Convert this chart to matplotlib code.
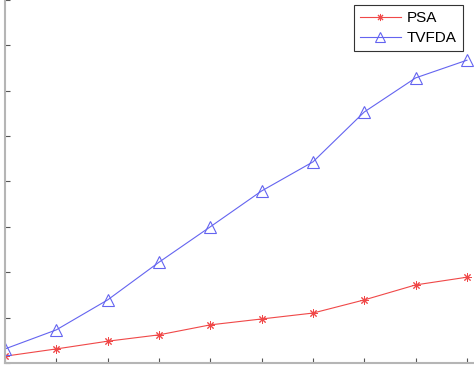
import numpy as np
import matplotlib
matplotlib.use('Agg')
import matplotlib.pyplot as plt

# values (tick labels are cropped, so units are tick steps)
steps = [1, 2, 3, 4, 5, 6, 7, 8, 9, 10]
psa = [0.15, 0.31, 0.48, 0.62, 0.84, 0.97, 1.10, 1.39, 1.72, 1.89]
tvfda = [0.31, 0.73, 1.39, 2.22, 3.00, 3.79, 4.43, 5.53, 6.28, 6.67]

plt.rcParams['font.family'] = ['Liberation Sans', 'DejaVu Sans']

fig = plt.figure(figsize=(4.74, 3.65), dpi=100)
W, H = 474, 365
# axes start at pixel 5 from left, bottom at pixel 363; right/top go past the crop
ax = fig.add_axes([5 / W, 2 / H, 1.0, 1.0])

px_per_step = 51.33
px_per_unit = 45.4
ax.set_xlim(1, 1 + W * 1.0 / px_per_step)
ax.set_ylim(0, H * 1.0 / px_per_unit)

ax.plot(steps, psa, color='#f04848', lw=0.8, marker=(8, 2, 0), ms=6, mew=0.7,
        label='PSA')
ax.plot(steps, tvfda, color='#6464f0', lw=0.8, marker='^', ms=9, mew=0.8,
        mfc='none', label='TVFDA')

ax.set_xticks(steps)
ax.set_yticks(range(0, 9))
ax.set_xticklabels([])
ax.set_yticklabels([])
ax.tick_params(direction='in', length=3.6, width=0.8, colors='#555555')
for side in ['top', 'right']:
    ax.spines[side].set_visible(False)
for side in ['left', 'bottom']:
    ax.spines[side].set_color('#b5b5b5')
    ax.spines[side].set_linewidth(1.5)

leg = ax.legend(loc='upper right', bbox_to_anchor=(463 / W, 1 - 5 / H),
                bbox_transform=fig.transFigure, fontsize=11, fancybox=False,
                framealpha=1, edgecolor='#333333', handlelength=2.7,
                borderpad=0.4, labelspacing=0.4, handletextpad=0.4,
                borderaxespad=0, markerscale=0.85)
leg.get_frame().set_linewidth(0.8)

fig.savefig('out.png', dpi=100)
